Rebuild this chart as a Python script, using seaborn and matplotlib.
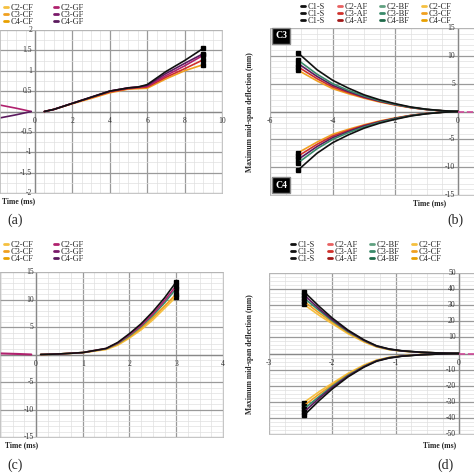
import numpy as np
import matplotlib
matplotlib.use("Agg")
import matplotlib.pyplot as plt
import seaborn as sns
import pandas as pd
from matplotlib.lines import Line2D
from matplotlib.ticker import MultipleLocator

sns.set_style("white")
plt.rcParams['font.family'] = ['Liberation Serif', 'DejaVu Serif']

# ---------------- data ----------------
# panel (a)
a_x = [0.5, 1, 2, 3, 4, 5, 5.5, 6, 7, 8, 9]
a_black = [0, 0.05, 0.2, 0.35, 0.5, 0.58, 0.6, 0.66, 0.98, 1.25, 1.55]
a_purple = [0, 0.05, 0.2, 0.35, 0.5, 0.58, 0.6, 0.64, 0.93, 1.18, 1.42]
a_magenta = [0, 0.05, 0.2, 0.35, 0.5, 0.58, 0.6, 0.62, 0.88, 1.12, 1.38]
a_red = [0, 0.05, 0.2, 0.34, 0.48, 0.56, 0.58, 0.6, 0.84, 1.05, 1.27]
a_orange = [0, 0.05, 0.19, 0.32, 0.46, 0.55, 0.56, 0.57, 0.8, 1.0, 1.15]
a_left_x = [-1.9, -1.0, -0.2]
a_left_up = [0.16, 0.08, 0.0]
a_left_dn = [-0.16, -0.08, 0.0]

# panel (b)
b_x = [-5.1, -4.5, -4, -3.5, -3, -2.5, -2, -1.5, -1, -0.5, 0]
b_c1 = [10.5, 7.5, 5.6, 4.2, 3.0, 2.1, 1.4, 0.8, 0.4, 0.15, 0]
b_bf = [9.2, 6.7, 5.0, 3.8, 2.8, 1.95, 1.3, 0.75, 0.38, 0.14, 0]
b_gf = [8.6, 6.3, 4.7, 3.6, 2.6, 1.85, 1.25, 0.72, 0.36, 0.13, 0]
b_af = [8.0, 5.9, 4.4, 3.4, 2.5, 1.8, 1.2, 0.7, 0.35, 0.13, 0]
b_cf = [7.4, 5.5, 4.1, 3.2, 2.4, 1.7, 1.15, 0.68, 0.34, 0.12, 0]

# panel (c)
c_x = [0.1, 0.5, 1.0, 1.5, 1.75, 2.0, 2.25, 2.5, 2.75, 3.0]
c_c1 = [0, 0.1, 0.35, 1.1, 2.2, 3.8, 5.6, 7.8, 10.3, 13.2]
c_gf = [0, 0.1, 0.35, 1.1, 2.1, 3.6, 5.3, 7.4, 9.8, 12.5]
c_bf = [0, 0.1, 0.35, 1.05, 2.0, 3.4, 5.1, 7.1, 9.4, 12.0]
c_af = [0, 0.1, 0.35, 1.0, 1.9, 3.2, 4.8, 6.7, 8.8, 11.0]
c_cf = [0, 0.1, 0.33, 0.9, 1.7, 3.0, 4.5, 6.3, 8.4, 10.5]
c_left_x = [-0.8, -0.4, -0.1]
c_left_y = [0.2, 0.1, 0.0]

# panel (d)
d_x = [-2.45, -2.2, -2.0, -1.75, -1.5, -1.3, -1.1, -0.9, -0.6, -0.3, 0]
d_c1 = [38.5, 29, 22, 14.5, 8.5, 4.8, 2.8, 1.7, 0.8, 0.3, 0]
d_gf = [36.5, 27.5, 21, 14, 8.2, 4.6, 2.7, 1.6, 0.75, 0.3, 0]
d_bf = [34.5, 26.5, 20.3, 13.5, 8.0, 4.5, 2.6, 1.6, 0.75, 0.3, 0]
d_af = [32.5, 25, 19.5, 13, 7.6, 4.3, 2.5, 1.5, 0.7, 0.28, 0]
d_cf = [30.5, 23.5, 18.5, 12.3, 7.2, 4.1, 2.4, 1.5, 0.7, 0.28, 0]

legend_a = ["C2-CF", "C3-CF", "C4-CF", "C2-GF", "C3-GF", "C4-GF"]
legend_b = ["C1-S", "C1-S", "C1-S", "C2-AF", "C3-AF", "C4-AF",
            "C2-BF", "C3-BF", "C4-BF", "C2-CF", "C3-CF", "C4-CF"]

COL = {"black": "#111111", "purple": "#5b1a5e", "magenta": "#b0216e",
       "red": "#d0302a", "orange": "#f0a020", "green": "#3a8a6a",
       "pink": "#d04a9a", "yellow": "#f5c040"}
LEG_COL = {"C1-S": "#111111", "C2-AF": "#e86060", "C3-AF": "#d0302a", "C4-AF": "#a01818",
           "C2-BF": "#60a080", "C3-BF": "#3a8a6a", "C4-BF": "#1f6a4a",
           "C2-CF": "#f5c040", "C3-CF": "#f0a020", "C4-CF": "#e8a000",
           "C2-GF": "#b0216e", "C3-GF": "#7a1a6a", "C4-GF": "#5b1a5e"}

W = 474.0
fig = plt.figure(figsize=(4.74, 4.74), dpi=100)


def mk(l, r, t, b):
    return fig.add_axes([l / W, 1 - b / W, (r - l) / W, (b - t) / W])


def style(ax, xlim, ylim, xmaj, xmin, ymaj, ymin, xt, yt, ylab_x, fmt):
    ax.set_xlim(*xlim); ax.set_ylim(*ylim)
    ax.xaxis.set_major_locator(MultipleLocator(xmaj))
    ax.xaxis.set_minor_locator(MultipleLocator(xmin))
    ax.yaxis.set_major_locator(MultipleLocator(ymaj))
    ax.yaxis.set_minor_locator(MultipleLocator(ymin))
    ax.grid(which="major", color="#9a9a9a", lw=0.9)
    ax.grid(which="minor", color="#e0e0e0", lw=0.5)
    ax.tick_params(which="both", length=0, labelbottom=False, labelleft=False)
    for s in ax.spines.values():
        s.set_color("#bbbbbb"); s.set_linewidth(0.6)
    ax.axhline(0, color="#888888", lw=0.9, zorder=1)
    ax.axvline(0, color="#888888", lw=0.9, zorder=1)
    dy = (ylim[1] - ylim[0])
    for v in xt:
        ax.text(v, -dy * 0.035, fmt(v), ha="center", va="top", fontsize=5.5, color="#333333")
    for v in yt:
        ax.text(ylab_x, v, fmt(v), ha="right", va="center", fontsize=5.5, color="#333333")


def fm(v):
    return ("%g" % v)


def draw(ax, x, ys, cols, mark, mirror=False):
    for y, c in zip(ys, cols):
        signs = [1, -1] if mirror else [1]
        for s in signs:
            df = pd.DataFrame({"t": x, "d": np.array(y) * s})
            sns.lineplot(data=df, x="t", y="d", ax=ax, color=c, lw=1.2, legend=False)
            ax.plot(x[mark], y[mark] * s, "s", color="black", ms=2.5)
    ax.set_xlabel(""); ax.set_ylabel("")


# ---- (a)
ax = mk(0, 222, 30, 193)
style(ax, (-1.87, 10), (-2, 2), 2, 0.5, 0.5, 0.25, [0, 2, 4, 6, 8, 10],
      [2, 1.5, 1, 0.5, -0.5, -1, -1.5, -2], -0.15, fm)
draw(ax, a_x, [a_orange, a_red, a_magenta, a_purple, a_black],
     [COL["orange"], COL["red"], COL["magenta"], COL["purple"], COL["black"]], -1)
ax.plot(a_left_x, a_left_up, color=COL["magenta"], lw=1.2)
ax.plot(a_left_x, a_left_dn, color=COL["purple"], lw=1.2)

# ---- (b)
ax = mk(270, 474, 28, 195)
style(ax, (-6, 0.51), (-15, 15), 2, 0.5, 5, 1, [-6, -4, -2, 0],
      [15, 10, 5, -5, -10, -15], -0.1, fm)
draw(ax, b_x, [b_cf, b_af, b_gf, b_bf, b_c1],
     [COL["orange"], COL["red"], COL["purple"], COL["green"], COL["black"]], 0, mirror=True)
ax.plot([0, 0.5], [0, 0], color=COL["pink"], lw=1.2, ls="--")

# ---- (c)
ax = mk(0, 223, 272, 437)
style(ax, (-0.77, 4), (-15, 15), 1, 0.25, 5, 1, [0, 1, 2, 3, 4],
      [15, 10, 5, -5, -10, -15], -0.05, fm)
draw(ax, c_x, [c_cf, c_af, c_bf, c_gf, c_c1],
     [COL["yellow"], COL["orange"], COL["green"], COL["magenta"], COL["black"]], -1)
ax.plot(c_left_x, c_left_y, color=COL["magenta"], lw=1.5)

# ---- (d)
ax = mk(269, 474, 273, 434)
style(ax, (-3, 0.24), (-50, 50), 1, 0.25, 10, 2.5, [-3, -2, -1, 0],
      [50, 40, 30, 20, 10, -10, -20, -30, -40, -50], -0.05, fm)
draw(ax, d_x, [d_cf, d_af, d_bf, d_gf, d_c1],
     [COL["yellow"], COL["orange"], COL["green"], COL["purple"], COL["black"]], 0, mirror=True)
ax.plot([0, 0.24], [0, 0], color=COL["pink"], lw=1.2, ls="--")


# legends
def leg(labels, ncol, x, y, colsp):
    h = [Line2D([], [], color=LEG_COL[l], lw=2) for l in labels]
    fig.legend(h, labels, ncol=ncol, loc="upper left", bbox_to_anchor=(x / W, 1 - y / W),
               frameon=False, fontsize=6, handlelength=0.5, handletextpad=0.3,
               columnspacing=colsp, labelspacing=-0.15, borderpad=0)


leg(legend_a, 2, 0, 0, 2.4)
leg(legend_b, 4, 297, -1, 1.5)
leg(legend_a, 2, 0, 237, 2.4)
leg(legend_b, 4, 287, 237, 1.5)

# boxes C3/C4
for (yy, t) in [(36, "C3"), (185, "C4")]:
    fig.text(281 / W, 1 - yy / W, t, ha="center", va="center", color="white",
             fontsize=7, fontweight="bold",
             bbox=dict(boxstyle="square,pad=0.35", fc="black", ec="#888888"))

# axis titles
for (x, y) in [(250, 112), (250, 354)]:
    fig.text(x / W, 1 - y / W, "Maximum mid-span deflection (mm)", rotation=90,
             ha="center", va="center", fontsize=5.5, fontweight="bold")
for (x, y) in [(19, 201), (430, 203), (22, 445), (440, 445)]:
    fig.text(x / W, 1 - y / W, "Time (ms)", ha="center", va="center",
             fontsize=5.5, fontweight="bold")
for (x, y, t) in [(15, 220, "(a)"), (455, 220, "(b)"), (15, 465, "(c)"), (446, 465, "(d)")]:
    fig.text(x / W, 1 - y / W, t, ha="center", va="center", fontsize=10)

fig.savefig("out.png", dpi=100)
